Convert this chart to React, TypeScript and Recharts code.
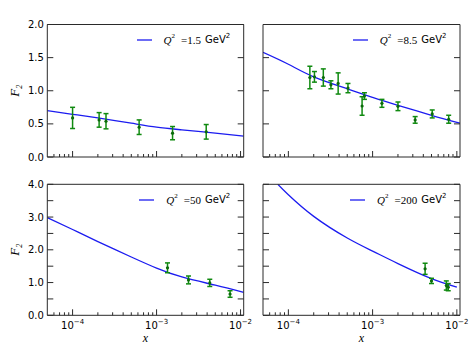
import React from 'react';
import {
  ComposedChart,
  Line,
  Scatter,
  ErrorBar,
  XAxis,
  YAxis,
  Legend,
} from 'recharts';

const W = 474;
const H = 355;
const FRAME = '#2a2a2a';
const SERIF = '"Liberation Serif", "DejaVu Serif", serif';
const SANS = '"DejaVu Sans", sans-serif';

// x range (log) and ticks shared by all four panels
const xRange = [5e-5, 1.09e-2];
const xTicks = [
  6e-5, 7e-5, 8e-5, 9e-5, 1e-4,
  2e-4, 3e-4, 4e-4, 5e-4, 6e-4, 7e-4, 8e-4, 9e-4, 1e-3,
  2e-3, 3e-3, 4e-3, 5e-3, 6e-3, 7e-3, 8e-3, 9e-3, 1e-2,
];
const yTicksTop = [0, 0.5, 1, 1.5, 2];
const yTicksBottom = [0, 0.5, 1, 1.5, 2, 2.5, 3, 3.5, 4];

// fitted curves (x sampled on a log grid)
const curveX = [5e-5, 1e-4, 2e-4, 5e-4, 1e-3, 2e-3, 5e-3, 1.09e-2];
const q15CurveY = [0.7, 0.645, 0.59, 0.51, 0.45, 0.41, 0.36, 0.315];
const q85CurveY = [1.58, 1.4, 1.21, 1.03, 0.9, 0.78, 0.63, 0.51];
const q50CurveY = [2.98, 2.62, 2.25, 1.78, 1.44, 1.17, 0.92, 0.7];
const q200CurveX = [7.5e-5, 1e-4, 2e-4, 5e-4, 1e-3, 2e-3, 5e-3, 1e-2];
const q200CurveY = [4.0, 3.68, 3.02, 2.36, 1.96, 1.58, 1.12, 0.86];

// measured F2 points with errors
const q15X = [1e-4, 2.07e-4, 2.5e-4, 6.2e-4, 1.55e-3, 3.9e-3];
const q15Y = [0.59, 0.56, 0.54, 0.45, 0.36, 0.38];
const q15Err = [0.16, 0.11, 0.115, 0.11, 0.1, 0.11];

const q85X = [1.8e-4, 2.04e-4, 2.6e-4, 3.2e-4, 3.9e-4, 5.1e-4, 7.5e-4, 8.0e-4, 1.29e-3, 2.0e-3, 3.2e-3, 5.1e-3, 8.0e-3];
const q85Y = [1.2, 1.21, 1.2, 1.09, 1.11, 1.04, 0.77, 0.92, 0.81, 0.765, 0.56, 0.65, 0.57];
const q85Err = [0.17, 0.08, 0.13, 0.06, 0.16, 0.07, 0.14, 0.05, 0.06, 0.065, 0.05, 0.06, 0.06];

const q50X = [1.35e-3, 2.4e-3, 4.3e-3, 7.5e-3];
const q50Y = [1.45, 1.08, 0.99, 0.65];
const q50Err = [0.15, 0.12, 0.11, 0.1];

const q200X = [4.2e-3, 5.0e-3, 7.5e-3, 7.9e-3];
const q200Y = [1.42, 1.05, 0.91, 0.86];
const q200Err = [0.17, 0.08, 0.14, 0.11];

const curve = (xs: number[], ys: number[]) => xs.map((x, i) => ({ x, y: ys[i] }));
const points = (xs: number[], ys: number[], es: number[]) =>
  xs.map((x, i) => ({ x, y: ys[i], e: es[i] }));

const isMajor = (v: number) => {
  const e = Math.log10(v);
  return Math.abs(e - Math.round(e)) < 1e-6;
};

function BottomTick(props: any) {
  const { x, y, payload, showLabel } = props;
  const v = payload.value;
  const major = isMajor(v);
  return (
    <g>
      <line x1={x} y1={y} x2={x} y2={y - (major ? 6 : 3)} stroke={FRAME} strokeWidth={1} />
      {major && showLabel && (
        <text x={x} y={y + 14} textAnchor="middle" fontSize={10} fontFamily={SANS} fill="#000">
          10
          <tspan dy={-5} fontSize={7}>
            {'\u2212' + -Math.round(Math.log10(v))}
          </tspan>
        </text>
      )}
    </g>
  );
}

function TopTick(props: any) {
  const { x, y, payload } = props;
  const major = isMajor(payload.value);
  return <line x1={x} y1={y} x2={x} y2={y + (major ? 6 : 3)} stroke={FRAME} strokeWidth={1} />;
}

function LeftTick(props: any) {
  const { x, y, payload, showLabel, onlyInt } = props;
  const v = payload.value;
  const lab = showLabel && (!onlyInt || Number.isInteger(v));
  return (
    <g>
      <line x1={x} y1={y} x2={x + 6} y2={y} stroke={FRAME} strokeWidth={1} />
      {lab && (
        <text x={x - 3.5} y={y} dy="0.36em" textAnchor="end" fontSize={10} fontFamily={SANS} fill="#000">
          {v.toFixed(1)}
        </text>
      )}
    </g>
  );
}

function RightTick(props: any) {
  const { x, y } = props;
  return <line x1={x} y1={y} x2={x - 6} y2={y} stroke={FRAME} strokeWidth={1} />;
}

function LegendBox(props: any) {
  const item = props.payload && props.payload[0];
  if (!item) return null;
  return (
    <div style={{ display: 'flex', alignItems: 'center', height: 14, lineHeight: '14px', whiteSpace: 'nowrap', color: '#000' }}>
      <svg width={15} height={4} style={{ display: 'block' }}>
        <line x1={0} y1={2} x2={15} y2={2} stroke={item.color} strokeWidth={1.3} />
      </svg>
      <span style={{ marginLeft: 12, fontFamily: SERIF, fontStyle: 'italic', fontSize: 11 }}>Q</span>
      <span style={{ fontFamily: SERIF, fontSize: 7, position: 'relative', top: -4 }}>2</span>
      <span style={{ marginLeft: 6, fontFamily: SERIF, fontSize: 11 }}>{item.value}</span>
      <span style={{ marginLeft: 4, fontFamily: SANS, fontSize: 10 }}>GeV</span>
      <span style={{ fontFamily: SANS, fontSize: 7, position: 'relative', top: -4 }}>2</span>
    </div>
  );
}

type PanelProps = {
  plotL: number;
  plotR: number;
  plotT: number;
  plotB: number;
  yMax: number;
  yTicks: number[];
  onlyInt: boolean;
  yLabels: boolean;
  xLabels: boolean;
  line: { x: number; y: number }[];
  pts: { x: number; y: number; e: number }[];
  name: string;
};

function Panel(p: PanelProps) {
  const margin = { left: p.plotL - 30, right: W - p.plotR - 10, top: p.plotT - 10, bottom: H - p.plotB - 20 };
  const midY = (p.plotT + p.plotB) / 2;
  const midX = (p.plotL + p.plotR) / 2;
  return (
    <div style={{ position: 'absolute', left: 0, top: 0 }}>
      <ComposedChart width={W} height={H} margin={margin}>
        <XAxis
          dataKey="x"
          type="number"
          scale="log"
          domain={xRange}
          allowDataOverflow
          ticks={xTicks}
          interval={0}
          height={20}
          tickLine={false}
          tickSize={0}
          tickMargin={0}
          axisLine={{ stroke: FRAME }}
          tick={(t: any) => <BottomTick {...t} showLabel={p.xLabels} />}
          label={
            p.xLabels
              ? {
                  content: () => (
                    <text x={midX} y={p.plotB + 27} textAnchor="middle" fontFamily={SERIF} fontStyle="italic" fontSize={12} fill="#000">
                      x
                    </text>
                  ),
                }
              : undefined
          }
        />
        <XAxis
          xAxisId="top"
          orientation="top"
          type="number"
          scale="log"
          domain={xRange}
          allowDataOverflow
          ticks={xTicks}
          interval={0}
          height={10}
          tickLine={false}
          tickSize={0}
          tickMargin={0}
          axisLine={{ stroke: FRAME }}
          tick={(t: any) => <TopTick {...t} />}
        />
        <YAxis
          type="number"
          domain={[0, p.yMax]}
          allowDataOverflow
          ticks={p.yTicks}
          interval={0}
          width={30}
          tickLine={false}
          tickSize={0}
          tickMargin={0}
          axisLine={{ stroke: FRAME }}
          tick={(t: any) => <LeftTick {...t} showLabel={p.yLabels} onlyInt={p.onlyInt} />}
          label={
            p.yLabels
              ? {
                  content: () => (
                    <text
                      x={19}
                      y={midY}
                      transform={`rotate(-90 19 ${midY})`}
                      textAnchor="middle"
                      fontFamily={SERIF}
                      fontStyle="italic"
                      fontSize={13}
                      fill="#000"
                    >
                      F<tspan fontSize={8} dy={3}>2</tspan>
                    </text>
                  ),
                }
              : undefined
          }
        />
        <YAxis
          yAxisId="right"
          orientation="right"
          type="number"
          domain={[0, p.yMax]}
          allowDataOverflow
          ticks={p.yTicks}
          interval={0}
          width={10}
          tickLine={false}
          tickSize={0}
          tickMargin={0}
          axisLine={{ stroke: FRAME }}
          tick={(t: any) => <RightTick {...t} />}
        />
        <Line
          data={p.line}
          dataKey="y"
          name={p.name}
          type="natural"
          stroke="#1c1cf0"
          strokeWidth={1.3}
          dot={false}
          isAnimationActive={false}
        />
        <Scatter
          data={p.pts}
          dataKey="y"
          fill="#0a6a0a"
          legendType="none"
          isAnimationActive={false}
          shape={(s: any) => <circle cx={s.cx} cy={s.cy} r={1.6} fill="#0a6a0a" />}
        >
          <ErrorBar dataKey="e" direction="y" width={2.5} stroke="#108a10" strokeWidth={1.5} isAnimationActive={false} />
        </Scatter>
        <Legend
          layout="horizontal"
          align="center"
          verticalAlign="middle"
          content={LegendBox}
          wrapperStyle={{ right: W - p.plotR + 13.5, top: p.plotT + 8.5, width: 'auto', height: 14 }}
        />
      </ComposedChart>
    </div>
  );
}

export default function App() {
  const left = { plotL: 47.3, plotR: 243.7 };
  const right = { plotL: 263, plotR: 460 };
  const top = { plotT: 24.5, plotB: 157, yMax: 2, yTicks: yTicksTop, onlyInt: false, xLabels: false };
  const bottom = { plotT: 184.3, plotB: 315.3, yMax: 4, yTicks: yTicksBottom, onlyInt: true, xLabels: true };
  return (
    <div style={{ position: 'absolute', left: 0, top: 0, width: W, height: H, background: '#fff' }}>
      <Panel {...left} {...top} yLabels line={curve(curveX, q15CurveY)} pts={points(q15X, q15Y, q15Err)} name="=1.5" />
      <Panel {...right} {...top} yLabels={false} line={curve(curveX, q85CurveY)} pts={points(q85X, q85Y, q85Err)} name="=8.5" />
      <Panel {...left} {...bottom} yLabels line={curve(curveX, q50CurveY)} pts={points(q50X, q50Y, q50Err)} name="=50" />
      <Panel {...right} {...bottom} yLabels={false} line={curve(q200CurveX, q200CurveY)} pts={points(q200X, q200Y, q200Err)} name="=200" />
    </div>
  );
}
